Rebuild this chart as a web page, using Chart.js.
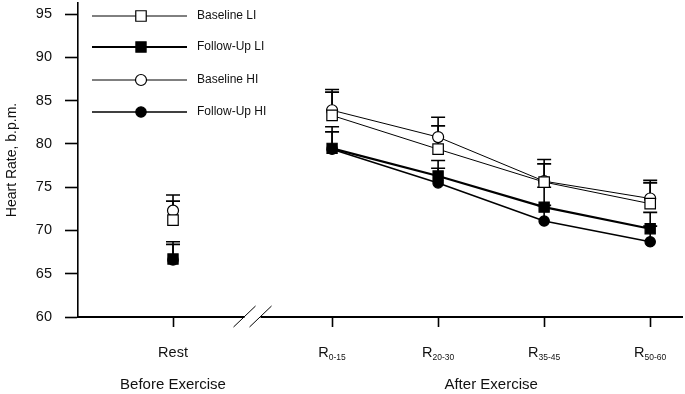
<!DOCTYPE html>
<html>
<head>
<meta charset="utf-8">
<script src="https://cdn.jsdelivr.net/npm/chart.js@4.4.0/dist/chart.umd.min.js"></script>
<style>
  body { margin: 0; background: #fff; }
  #wrap { width: 685px; height: 394px; }
</style>
</head>
<body>
<div id="wrap"><canvas id="c" width="685" height="394"></canvas></div>
<script>
// categories and their sub labels
const categories = ['Rest', 'R', 'R', 'R', 'R'];
const catSubs = ['', '0-15', '20-30', '35-45', '50-60'];
const groupLabels = ['Before Exercise', 'After Exercise'];
const yTicks = [60, 65, 70, 75, 80, 85, 90, 95];

// series (b.p.m.) and their upper error bars
const baselineLI = [71.2, 83.3, 79.4, 75.6, 73.1];
const baselineLIErr = [2.2, 2.7, 2.7, 2.6, 2.4];
const followUpLI = [66.7, 79.5, 76.3, 72.7, 70.2];
const followUpLIErr = [2.0, 2.5, 1.8, 2.3, 1.9];
const baselineHI = [72.3, 83.9, 80.8, 75.7, 73.7];
const baselineHIErr = [1.8, 2.4, 2.3, 2.0, 2.1];
const followUpHI = [66.6, 79.4, 75.5, 71.1, 68.7];
const followUpHIErr = [1.8, 2.0, 1.7, 1.8, 1.8];

// x layout with the axis break between Rest and the recovery points
const catX = [0, 1.5, 2.5, 3.5, 4.5];
const breakX = 0.75;

const FONT = '"Liberation Sans", Arial, sans-serif';

function pts(vals) {
  return vals.map((v, i) => ({ x: catX[i], y: v }));
}

function series(label, vals, errs, style, fill, lw, r) {
  return {
    label: label,
    data: pts(vals),
    errs: errs,
    borderColor: '#000',
    borderWidth: lw,
    pointStyle: style,
    pointRadius: r,
    pointHoverRadius: r,
    pointBackgroundColor: fill,
    pointBorderColor: '#000',
    pointBorderWidth: 1.2,
    tension: 0,
    segment: {
      // no line from Rest across the break
      borderColor: ctx => ctx.p0DataIndex === 0 ? 'rgba(0,0,0,0)' : '#000'
    }
  };
}

const errorBars = {
  id: 'errorBars',
  beforeDatasetsDraw(chart) {
    const ctx = chart.ctx;
    const ys = chart.scales.y;
    ctx.save();
    ctx.strokeStyle = '#000';
    ctx.lineWidth = 1.6;
    chart.data.datasets.forEach((ds, di) => {
      const meta = chart.getDatasetMeta(di);
      meta.data.forEach((p, i) => {
        const top = ys.getPixelForValue(ds.data[i].y + ds.errs[i]);
        ctx.beginPath();
        ctx.moveTo(p.x, p.y);
        ctx.lineTo(p.x, top);
        ctx.moveTo(p.x - 7, top);
        ctx.lineTo(p.x + 7, top);
        ctx.stroke();
      });
    });
    ctx.restore();
  }
};

const extras = {
  id: 'extras',
  afterDraw(chart) {
    const ctx = chart.ctx;
    const xs = chart.scales.x;
    const area = chart.chartArea;
    ctx.save();

    // axis break
    const bx = xs.getPixelForValue(breakX);
    const ay = area.bottom;
    ctx.fillStyle = '#fff';
    ctx.fillRect(bx - 8, ay - 3, 16, 6);
    ctx.strokeStyle = '#000';
    ctx.lineWidth = 1;
    [-8, 8].forEach(off => {
      ctx.beginPath();
      ctx.moveTo(bx + off - 11, ay + 10);
      ctx.lineTo(bx + off + 11, ay - 11);
      ctx.stroke();
    });

    // category labels with subscripts
    ctx.fillStyle = '#111';
    ctx.textBaseline = 'alphabetic';
    ctx.textAlign = 'left';
    categories.forEach((c, i) => {
      const px = xs.getPixelForValue(catX[i]);
      ctx.font = '14.5px ' + FONT;
      const w1 = ctx.measureText(c).width;
      ctx.font = '8.5px ' + FONT;
      const w2 = catSubs[i] ? ctx.measureText(catSubs[i]).width : 0;
      const x0 = px - (w1 + w2) / 2;
      ctx.font = '14.5px ' + FONT;
      ctx.fillText(c, x0, 357);
      if (catSubs[i]) {
        ctx.font = '8.5px ' + FONT;
        ctx.fillText(catSubs[i], x0 + w1, 360);
      }
    });

    // group labels
    ctx.font = '15px ' + FONT;
    ctx.textAlign = 'center';
    ctx.fillText(groupLabels[0], xs.getPixelForValue(catX[0]), 389);
    ctx.fillText(groupLabels[1], (xs.getPixelForValue(catX[1]) + xs.getPixelForValue(catX[4])) / 2, 389);

    // legend
    const rows = [16, 47, 80, 112];
    chart.data.datasets.forEach((ds, i) => {
      const y = rows[i];
      ctx.strokeStyle = '#000';
      ctx.lineWidth = ds.borderWidth;
      ctx.beginPath();
      ctx.moveTo(92, y);
      ctx.lineTo(187, y);
      ctx.stroke();
      ctx.fillStyle = ds.pointBackgroundColor;
      ctx.lineWidth = ds.pointBorderWidth;
      Chart.helpers.drawPoint(ctx, {
        pointStyle: ds.pointStyle, radius: ds.pointRadius,
        rotation: 0, borderWidth: ds.pointBorderWidth
      }, 141, y);
      ctx.fillStyle = '#111';
      ctx.font = '12px ' + FONT;
      ctx.textAlign = 'left';
      ctx.textBaseline = 'middle';
      ctx.fillText(ds.label, 197, y);
    });
    ctx.restore();
  }
};

new Chart(document.getElementById('c'), {
  type: 'line',
  data: {
    datasets: [
      series('Baseline LI', baselineLI, baselineLIErr, 'rect', '#fff', 1, 7.4),
      series('Follow-Up LI', followUpLI, followUpLIErr, 'rect', '#000', 2.2, 7.2),
      series('Baseline HI', baselineHI, baselineHIErr, 'circle', '#fff', 1, 5.5),
      series('Follow-Up HI', followUpHI, followUpHIErr, 'circle', '#000', 1.6, 5.2)
    ]
  },
  options: {
    responsive: false,
    animation: false,
    devicePixelRatio: 1,
    layout: { autoPadding: false, padding: { top: 3, right: 3, left: 0, bottom: 0 } },
    plugins: { legend: { display: false }, tooltip: { enabled: false } },
    scales: {
      x: {
        type: 'linear',
        min: -0.896,
        max: 4.8,
        afterBuildTicks: s => { s.ticks = catX.map(v => ({ value: v })); },
        afterFit: s => { s.height = 77; s.paddingLeft = 0; s.paddingRight = 0; },
        ticks: { display: false },
        border: { display: true, color: '#000', width: 2 },
        grid: { drawOnChartArea: false, drawTicks: true, tickLength: 10, tickColor: '#000', tickWidth: 1.6 }
      },
      y: {
        min: 60,
        max: 96.3,
        afterBuildTicks: s => { s.ticks = yTicks.map(v => ({ value: v })); },
        afterFit: s => { s.width = 78; s.paddingTop = 0; s.paddingBottom = 0; },
        ticks: { color: '#111', padding: 13, font: { family: FONT, size: 14.5 } },
        border: { display: true, color: '#000', width: 1.6 },
        grid: { drawOnChartArea: false, drawTicks: true, tickLength: 13, tickColor: '#000', tickWidth: 1.6 },
        title: { display: true, text: 'Heart Rate, b.p.m.', color: '#111', padding: { top: 4, bottom: 0 }, font: { family: FONT, size: 14 } }
      }
    }
  },
  plugins: [errorBars, extras]
});
</script>
</body>
</html>
